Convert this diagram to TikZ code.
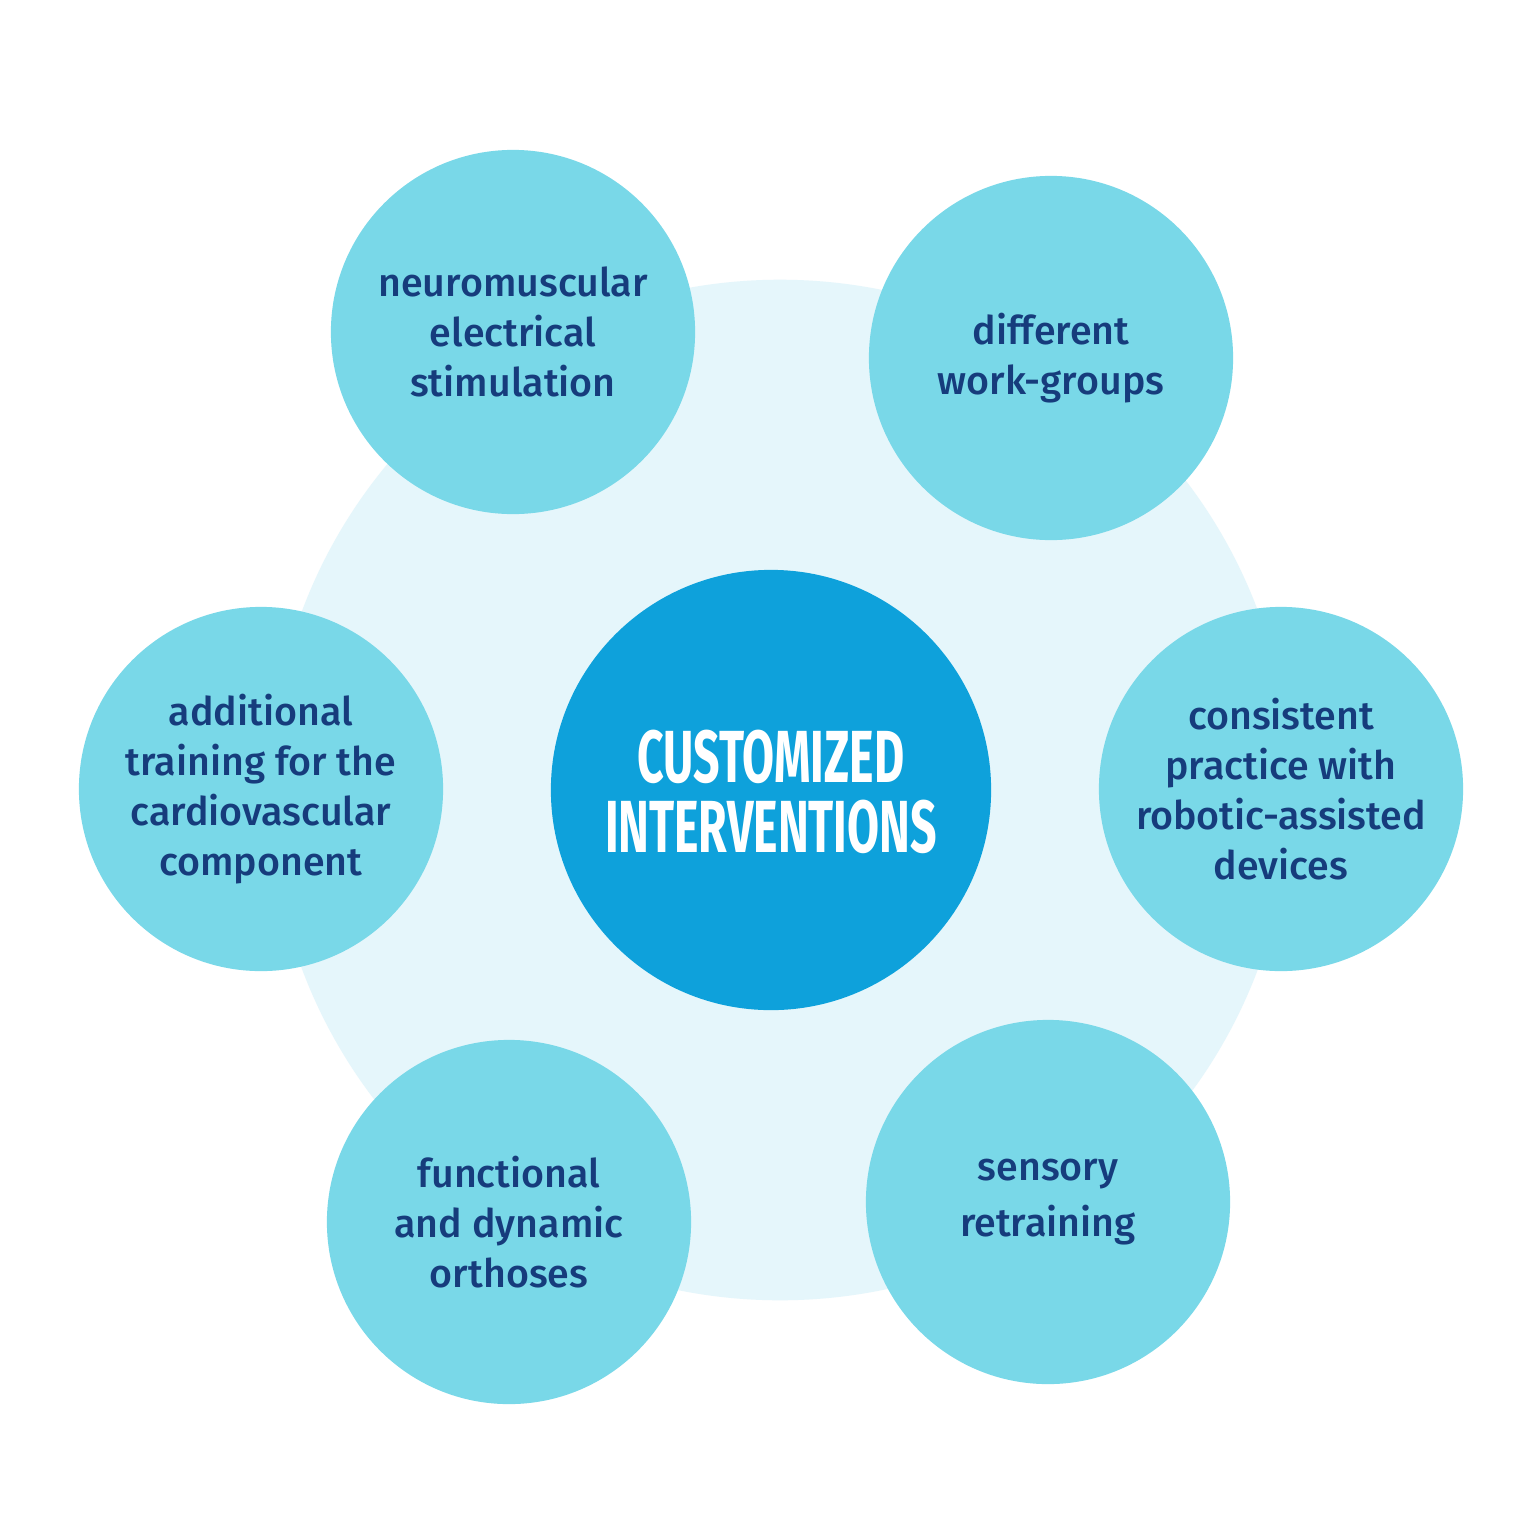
\documentclass[tikz,border=0pt]{standalone}
\usepackage{fontspec}
\setmainfont{Fira Sans}
\newfontfamily\leafont{Fira Sans Medium}
\newfontfamily\hubfont{Fira Sans Bold}
\definecolor{bgring}{HTML}{E5F6FB}
\definecolor{leaf}{HTML}{79D8E8}
\definecolor{hubc}{HTML}{0EA1DB}
\definecolor{ink}{HTML}{163C7C}
\begin{document}
\begin{tikzpicture}[x=0.01cm,y=-0.01cm,
  leafnode/.style={circle,fill=leaf,minimum size=3.64cm,inner sep=0pt,align=center,
    text=ink,font=\leafont\fontsize{11.2}{14.2}\selectfont},
  hubnode/.style={circle,fill=hubc,minimum size=4.4cm,inner sep=0pt}]
\useasboundingbox (0,0) rectangle (1536,1536);
\fill[white] (0,0) rectangle (1536,1536);
\node[circle,fill=bgring,minimum size=10.2cm,inner sep=0pt] (ring) at (780,790) {};
\node[hubnode] (hub) at (771,790) {};
\node[text=white,font=\hubfont\fontsize{20}{20}\selectfont,align=center] (hubtext) at (771,792)
  {\scalebox{0.66}[1.05]{CUSTOMIZED}\\[0pt]\scalebox{0.66}[1.05]{INTERVENTIONS}};
\node[leafnode] (nmes) at (513,332) {neuromuscular\\electrical\\stimulation};
\node[leafnode] (work) at (1051,358) {different\\work-groups};
\node[leafnode] (cardio) at (261,789) {additional\\training for the\\cardiovascular\\component};
\node[leafnode] (robot) at (1281,789) {consistent\\practice with\\robotic-assisted\\devices};
\node[leafnode] (orth) at (509,1222) {functional\\and dynamic\\orthoses};
\node[leafnode] (sens) at (1048,1202) {\raisebox{-6pt}{}sensory\\retraining};
\end{tikzpicture}
\end{document}
